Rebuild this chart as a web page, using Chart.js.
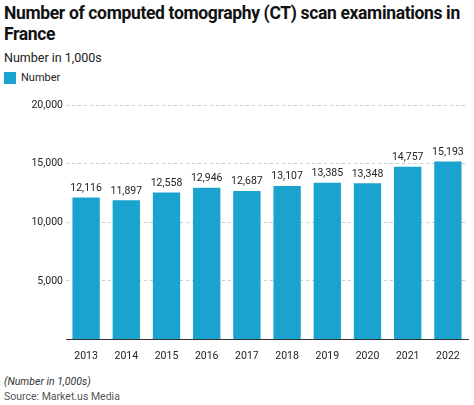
<!DOCTYPE html>
<html><head><meta charset="utf-8">
<script src="https://cdn.jsdelivr.net/npm/chart.js@4"></script>
<style>
body{margin:0;width:474px;height:405px;font-family:Roboto,sans-serif;background:#fff;position:relative;overflow:hidden}
#t{position:absolute;left:4px;top:3px;font-size:17.5px;font-weight:bold;line-height:21px;color:#111;width:472px;letter-spacing:-0.35px}
#s{position:absolute;left:4px;top:50px;font-size:12.5px;color:#222}
#l{position:absolute;left:4px;top:71px;font-size:11px;color:#222;display:flex;align-items:center}
#l span{display:inline-block;width:12px;height:12px;background:#1aa3cf;margin-right:5px}
#c{position:absolute;left:0;top:96px;width:474px;height:270px}
#f1{position:absolute;left:4px;top:375px;font-size:10.5px;font-style:italic;color:#333}
#f2{position:absolute;left:4px;top:390px;font-size:10.5px;color:#555}
</style></head><body>
<div id="t">Number of computed tomography (CT) scan examinations in France</div>
<div id="s">Number in 1,000s</div>
<div id="l"><span></span>Number</div>
<div id="c"><canvas id="cv"></canvas></div>
<div id="f1">(Number in 1,000s)</div>
<div id="f2">Source: Market.us Media</div>
<script>
const categories=["2013","2014","2015","2016","2017","2018","2019","2020","2021","2022"];
const values=[12116,11897,12558,12946,12687,13107,13385,13348,14757,15193];
const labelPlugin={id:'lbl',afterDatasetsDraw(ch){const c=ch.ctx;c.save();c.font='10.5px Roboto';c.fillStyle='#222';c.textAlign='center';c.textBaseline='bottom';
ch.getDatasetMeta(0).data.forEach((b,i)=>c.fillText(values[i].toLocaleString('en-US'),b.x,b.y-4));c.restore();}};
new Chart(document.getElementById('cv'),{type:'bar',data:{labels:categories,datasets:[{label:'Number',data:values,backgroundColor:'#1aa3cf',barPercentage:0.68,categoryPercentage:1}]},
options:{responsive:true,maintainAspectRatio:false,animation:false,layout:{padding:{left:0,right:6,top:6}},
plugins:{legend:{display:false},tooltip:{enabled:false}},
scales:{x:{grid:{display:false},border:{color:'#333'},ticks:{color:'#222',font:{size:10.5,family:'Roboto'}}},
y:{min:0,max:20000,ticks:{stepSize:5000,color:'#222',font:{size:10.5,family:'Roboto'},callback:v=>v===0?'':v.toLocaleString('en-US')},border:{display:false,dash:[3,3]},grid:{color:'#ccc',drawTicks:false},afterFit(s){s.width=66}}}},
plugins:[labelPlugin]});
</script></body></html>
